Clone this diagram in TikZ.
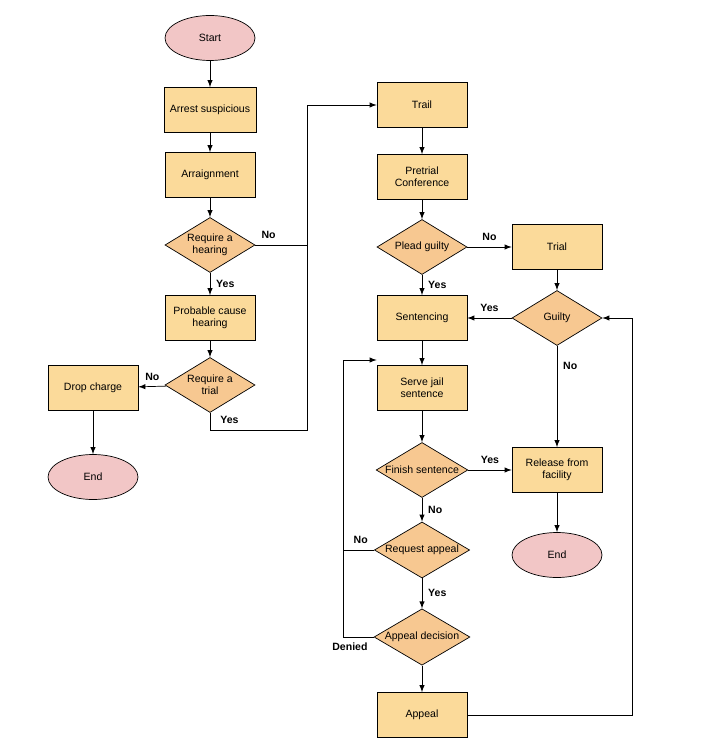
\documentclass[tikz,border=0pt]{standalone}
\usepackage{fontspec}
\setmainfont{Liberation Sans}
\usetikzlibrary{shapes.geometric}
\definecolor{boxfill}{HTML}{FBDA9A}
\definecolor{decfill}{HTML}{F7C891}
\definecolor{termfill}{HTML}{F2C6C6}
\begin{document}
\begin{tikzpicture}[x=0.02cm, y=-0.02cm, >=latex, font=\fontsize{6}{7}\selectfont,
  box/.style={draw, rectangle, fill=boxfill, minimum width=1.8cm, minimum height=0.9cm, align=center},
  dec/.style={draw, diamond, aspect=1.7, fill=decfill, inner sep=0.5pt, minimum width=1.8cm, minimum height=1.1cm, align=center},
  term/.style={draw, ellipse, fill=termfill, minimum width=1.8cm, minimum height=0.9cm},
  lbl/.style={font=\fontsize{6}{7}\selectfont\bfseries}]
  \useasboundingbox (0,0) rectangle (707,749);
  % Nodes
  \node[term] (start) at (210,38) {Start};
  \node[box] (arrest) at (210,110) {Arrest suspicious};
  \node[box] (arraign) at (210,175) {Arraignment};
  \node[dec] (hearq) at (210,245) {Require a\\hearing};
  \node[box] (probable) at (210,318) {Probable cause\\hearing};
  \node[dec] (trialq) at (210,385) {Require a\\trial};
  \node[box] (drop) at (93,388) {Drop charge};
  \node[term] (end1) at (93,477) {End};
  \node[box] (trail) at (422,105) {Trail};
  \node[box] (pretrial) at (422,177) {Pretrial\\Conference};
  \node[dec] (plead) at (422,247) {Plead guilty};
  \node[box] (trial) at (557,247) {Trial};
  \node[box] (sentencing) at (422,318) {Sentencing};
  \node[dec] (guilty) at (557,318) {Guilty};
  \node[box] (serve) at (422,388) {Serve jail\\sentence};
  \node[dec] (finish) at (422,470) {Finish sentence};
  \node[box] (release) at (557,470) {Release from\\facility};
  \node[term] (end2) at (557,555) {End};
  \node[dec] (request) at (422,550) {Request appeal};
  \node[dec] (decision) at (422,637) {Appeal decision};
  \node[box] (appeal) at (422,715) {Appeal};
  \coordinate (jointop) at (307,105);
  \coordinate (joinbot) at (307,430);
  \coordinate (loopL) at (343,360);
  % Connections
  \draw[->] (start) -- (arrest);
  \draw[->] (arrest) -- (arraign);
  \draw[->] (arraign) -- (hearq);
  \draw[->] (hearq) -- node[lbl, right] {Yes} (probable);
  \draw[->] (probable) -- (trialq);
  \draw[->] (trialq) -- node[lbl, above] {No} (drop);
  \draw[->] (drop) -- (end1);
  \draw[->] (hearq.east) node[lbl, above right] {No} -| (jointop) -- (trail);
  \draw (trialq.south) |- node[lbl, pos=0.6, above] {Yes} (joinbot) -- (307,245);
  \draw[->] (trail) -- (pretrial);
  \draw[->] (pretrial) -- (plead);
  \draw[->] (plead) -- node[lbl, above] {No} (trial);
  \draw[->] (plead) -- node[lbl, right] {Yes} (sentencing);
  \draw[->] (trial) -- (guilty);
  \draw[->] (guilty) -- node[lbl, above] {Yes} (sentencing);
  \draw[->] (guilty) -- node[lbl, right, pos=0.2] {No} (release);
  \draw[->] (sentencing) -- (serve);
  \draw[->] (serve) -- (finish);
  \draw[->] (finish) -- node[lbl, above] {Yes} (release);
  \draw[->] (release) -- (end2);
  \draw[->] (finish) -- node[lbl, right] {No} (request);
  \draw[->] (request) -- node[lbl, right] {Yes} (decision);
  \draw[->] (decision) -- (appeal);
  \draw[->] (request.west) node[lbl, above left] {No} -| (loopL) -- (serve.west |- loopL);
  \draw (decision.west) node[lbl, below left] {Denied} -| (loopL);
  \draw[->] (appeal.east) -| (632,318) -- (guilty.east);
\end{tikzpicture}
\end{document}
